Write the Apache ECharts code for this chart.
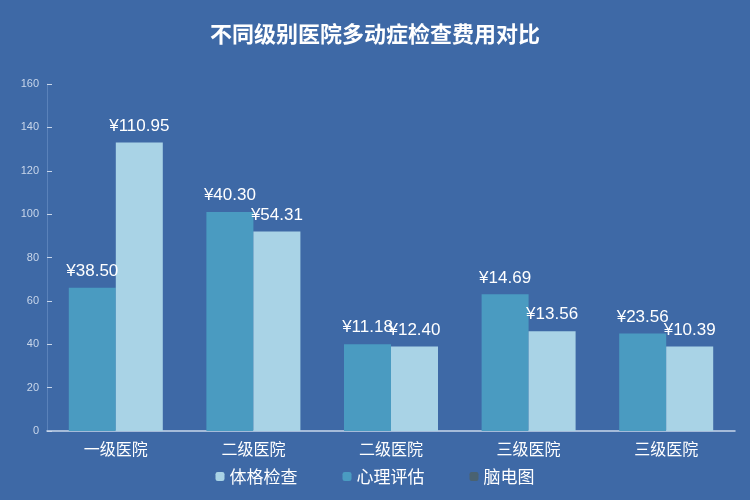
<!DOCTYPE html>
<html><head><meta charset="utf-8">
<script src="https://cdn.jsdelivr.net/npm/echarts@6/dist/echarts.min.js"></script>
<style>body{margin:0;background:#3e69a6}#c{width:750px;height:500px}</style>
</head><body><div id="c"></div>
<script>
// 数据
const categories = ['一级医院', '二级医院', '二级医院', '三级医院', '三级医院'];
const psychValues = [66, 101, 40, 63, 45];
const physValues = [133, 92, 39, 46, 39];
const psychLabels = ['¥38.50', '¥40.30', '¥11.18', '¥14.69', '¥23.56'];
const physLabels = ['¥110.95', '¥54.31', '¥12.40', '¥13.56', '¥10.39'];
const eegValues = [];

const chart = echarts.init(document.getElementById('c'));
const label = (arr) => ({
  show: true, position: 'top', distance: 8, color: '#fff', fontSize: 17,
  formatter: p => arr[p.dataIndex]
});
chart.setOption({
  backgroundColor: '#3e69a6',
  title: {
    text: '不同级别医院多动症检查费用对比', left: 'center', top: 18,
    textStyle: { color: '#fff', fontSize: 22, fontWeight: 'bold', fontFamily: 'Noto Sans CJK SC' }
  },
  legend: {
    bottom: 10, itemWidth: 9, itemHeight: 9, itemGap: 45,
    textStyle: { color: '#fff', fontSize: 17, fontFamily: 'Noto Sans CJK SC' },
    data: ['体格检查', '心理评估', '脑电图']
  },
  grid: { left: 47, right: 15, top: 84, bottom: 69 },
  xAxis: {
    type: 'category', data: categories,
    axisLine: { lineStyle: { color: '#c8d6ea', width: 1.5 } },
    axisTick: { show: false },
    axisLabel: { color: '#fff', fontSize: 16, margin: 10, fontFamily: 'Noto Sans CJK SC' }
  },
  yAxis: {
    type: 'value', min: 0, max: 160, interval: 20,
    axisLine: { show: true, lineStyle: { color: '#5a82ba' } },
    axisTick: { show: true, inside: true, lineStyle: { color: '#c8d6ea' } },
    axisLabel: { color: '#c8d6ea', fontSize: 11 },
    splitLine: { show: false }
  },
  series: [
    { name: '心理评估', type: 'bar', data: psychValues, barWidth: 47, barGap: '0%',
      itemStyle: { color: '#4a9bc1' }, label: label(psychLabels) },
    { name: '体格检查', type: 'bar', data: physValues, barWidth: 47,
      itemStyle: { color: '#a9d3e6' }, label: label(physLabels) },
    { name: '脑电图', type: 'bar', data: eegValues, itemStyle: { color: '#4a6270' } }
  ]
});
</script></body></html>
